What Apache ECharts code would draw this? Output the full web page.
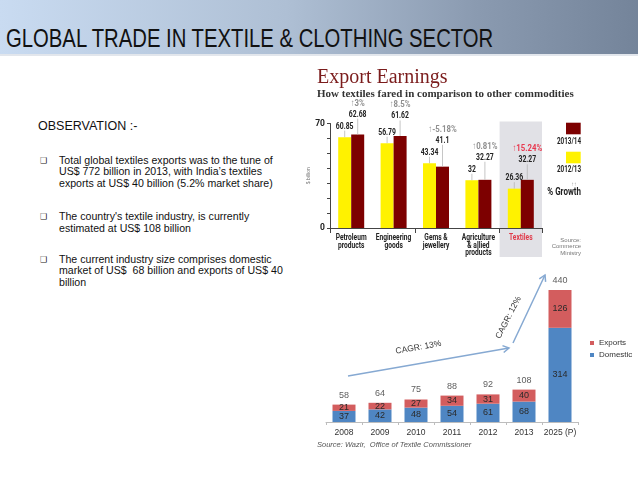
<!DOCTYPE html>
<html><head><meta charset="utf-8">
<script src="https://cdn.jsdelivr.net/npm/echarts@6/dist/echarts.min.js"></script>
<style>
html,body{margin:0;padding:0;width:638px;height:478px;background:#fff;overflow:hidden;font-family:"Liberation Sans",Arial,sans-serif;}
#band{position:absolute;left:0;top:0;width:638px;height:54px;background:linear-gradient(to right,#c9dbf1 0%,#aebfd4 45%,#8a9ab0 75%,#74849a 100%);border-bottom:2px solid #e2e6ec;}
#title{position:absolute;left:6px;top:22.7px;font-size:26px;line-height:30px;color:#111;white-space:nowrap;transform:scaleX(0.78);transform-origin:0 0;}
#obs{position:absolute;left:38px;top:119.4px;font-size:12.5px;line-height:14px;color:#111;white-space:nowrap;}
.para{position:absolute;left:59px;font-size:10.6px;line-height:11.6px;color:#111;white-space:nowrap;}
.bul{position:absolute;left:40px;font-family:"DejaVu Sans",sans-serif;font-size:8px;line-height:11.6px;color:#111;}
#chart{position:absolute;left:0;top:0;width:638px;height:478px;}
</style></head>
<body>
<div id="band"></div>
<div id="title">GLOBAL TRADE IN TEXTILE &amp; CLOTHING SECTOR</div>
<div id="obs">OBSERVATION :-</div>
<div class="bul" style="top:154.7px">❑</div>
<div class="para" style="top:154.7px">Total global textiles exports was to the tune of<br>US$ 772 billion in 2013, with India’s textiles<br>exports at US$ 40 billion (5.2% market share)</div>
<div class="bul" style="top:211.4px">❑</div>
<div class="para" style="top:211.4px">The country's textile industry, is currently<br>estimated at US$ 108 billion</div>
<div class="bul" style="top:253.7px">❑</div>
<div class="para" style="top:253.7px">The current industry size comprises domestic<br>market of US$&nbsp; 68 billion and exports of US$ 40<br>billion</div>
<div id="chart"></div>
<script>
// ---- Export Earnings chart data ----
const earningsCategories = ['Petroleum\nproducts', 'Engineering\ngoods', 'Gems &\njewellery', 'Agriculture\n& allied\nproducts', 'Textiles'];
const earnings2012 = [60.85, 56.79, 43.34, 32, 26.36];
const earnings2013 = [62.68, 61.62, 41.1, 32.27, 32.27];
const growthLabels = ['3%', '8.5%', '-5.18%', '0.81%', '15.24%'];
const earningsTickLabels = [0, 70];
const highlightCategory = 'Textiles';

// ---- Industry size chart data ----
const years = ['2008', '2009', '2010', '2011', '2012', '2013', '2025 (P)'];
const domesticValues = [37, 42, 48, 54, 61, 68, 314];
const exportValues = [21, 22, 27, 34, 31, 40, 126];
const totalValues = [58, 64, 75, 88, 92, 108, 440];

const COND = 'Roboto, "Liberation Sans", sans-serif';
const SANS = '"Liberation Sans", Arial, sans-serif';
const hiIndex = earningsCategories.indexOf(highlightCategory);
const BARW = 13;

function ctext(text, x, y, font, fill, sx, align) {
  return {type: 'text', x: x, y: y, scaleX: sx,
    style: {text: text, x: 0, y: 0, align: align || 'center', verticalAlign: 'middle', font: font, fill: fill}};
}

function renderEarningsLabels(params, api) {
  const ci = api.value(0);
  const v1 = api.value(1), v2 = api.value(2);
  const base = api.coord([ci, 0]);
  const xa = base[0] - BARW / 2, xb = base[0] + BARW / 2;
  const ya = api.coord([ci, v1])[1], yb = api.coord([ci, v2])[1];
  const la = ya - 11;
  const lb = Math.min(yb - 20, la - 12);
  const lg = lb - 11;
  const vf = 'bold 9.5px ' + COND;
  const lineStyle = {stroke: '#b8b8b8', lineWidth: 0.8};
  const children = [
    {type: 'line', shape: {x1: xa, y1: la + 4.5, x2: xa, y2: ya}, style: lineStyle},
    {type: 'line', shape: {x1: xb, y1: lb + 4.5, x2: xb, y2: yb}, style: lineStyle},
    ctext(String(v1), xa, la, vf, '#222', 0.72),
    ctext(String(v2), xb, lb, vf, '#222', 0.72),
    ctext('↑' + growthLabels[ci], xb, lg, 'bold 9.5px ' + COND, ci === hiIndex ? '#e8384f' : '#8f8f8f', 0.82)
  ];
  earningsCategories[ci].split('\n').forEach(function (ln, j) {
    children.push(ctext(ln, base[0], base[1] + 10.3 + j * 7.3, 'bold 8.5px ' + COND, ci === hiIndex ? '#e03a4a' : '#222', 0.78));
  });
  return {type: 'group', children: children};
}

function renderHighlight(params, api) {
  const ci = api.value(0);
  const p0 = api.coord([ci, 0]);
  const pTop = api.coord([ci, 70]);
  const w = api.size([1, 0])[0];
  return {
    type: 'rect',
    shape: {x: p0[0] - w / 2, y: pTop[1] - 2, width: w, height: p0[1] - pTop[1] + 2 + 29},
    style: {fill: '#e1e1e6'}
  };
}

function arrow(x1, y1, x2, y2) {
  const a = Math.atan2(y2 - y1, x2 - x1), L = 6, W = 3.5;
  const c = Math.cos(a), s = Math.sin(a);
  const st = {stroke: '#86a9d2', lineWidth: 1.5, fill: null};
  return [
    {type: 'line', shape: {x1, y1, x2, y2}, style: st, silent: true},
    {type: 'polyline', shape: {points: [[x2 - L * c + W * s, y2 - L * s - W * c], [x2, y2], [x2 - L * c - W * s, y2 - L * s + W * c]]}, style: st, silent: true}
  ];
}

const chart = echarts.init(document.getElementById('chart'), null, {renderer: 'canvas'});
chart.setOption({
  backgroundColor: 'transparent',
  animation: false,
  title: [
    {text: 'Export Earnings', subtext: 'How textiles fared in comparison to other commodities', left: 317, top: 68, padding: 0, itemGap: 1,
     textStyle: {fontFamily: '"Liberation Serif", serif', fontSize: 20, color: '#7b1c1c', fontWeight: 'normal'},
     subtextStyle: {fontFamily: '"Liberation Serif", serif', fontSize: 11, color: '#333', fontWeight: 'bold'}},
    {text: 'Source: Wazir,  Office of Textile Commissioner', left: 317, top: 441, padding: 0,
     textStyle: {fontFamily: SANS, fontSize: 7.5, fontStyle: 'italic', color: '#555', fontWeight: 'normal'}}
  ],
  legend: {
    data: ['Exports', 'Domestic'], orient: 'vertical', left: 590, top: 339, padding: 0, itemWidth: 4, itemHeight: 4, itemGap: 4, icon: 'rect',
    textStyle: {fontFamily: SANS, fontSize: 8, color: '#333'}
  },
  grid: [
    {left: 330, top: 123.5, width: 212, height: 104.5},
    {left: 326, top: 272, width: 252, height: 150}
  ],
  xAxis: [
    {type: 'category', gridIndex: 0, data: earningsCategories, z: 4,
     axisLine: {lineStyle: {color: '#444', width: 1}},
     axisTick: {show: true, length: 5, lineStyle: {color: '#444'}},
     axisLabel: {show: false}},
    {type: 'category', gridIndex: 1, data: years,
     axisLine: {lineStyle: {color: '#bdbdbd', width: 1}},
     axisTick: {show: true, length: 3, lineStyle: {color: '#bdbdbd'}},
     axisLabel: {interval: 0, margin: 6, fontFamily: SANS, fontSize: 8.5, color: '#333'}}
  ],
  yAxis: [
    {type: 'value', gridIndex: 0, min: 0, max: 70, interval: 10, splitLine: {show: false},
     axisLine: {show: true, lineStyle: {color: '#444'}},
     axisTick: {show: true, length: 3, lineStyle: {color: '#444'}},
     axisLabel: {margin: 5, fontFamily: COND, fontWeight: 'bold', fontSize: 8.5, color: '#222',
       formatter: v => earningsTickLabels.indexOf(v) >= 0 ? String(v) : ''},
     name: '$ billion', nameLocation: 'middle', nameRotate: 90, nameGap: 10,
     nameTextStyle: {fontSize: 5, color: '#777', fontFamily: SANS}},
    {type: 'value', gridIndex: 1, min: 0, max: 500, show: false}
  ],
  series: [
    {type: 'custom', name: 'highlight', xAxisIndex: 0, yAxisIndex: 0, z: 1, silent: true, clip: false,
     renderItem: renderHighlight, encode: {x: 0, y: 1}, data: [[hiIndex, 0]]},
    {type: 'bar', name: '2012/13', xAxisIndex: 0, yAxisIndex: 0, data: earnings2012, barWidth: BARW, barGap: '0%', z: 2,
     itemStyle: {color: '#fff200'}},
    {type: 'bar', name: '2013/14', xAxisIndex: 0, yAxisIndex: 0, data: earnings2013, barWidth: BARW, barGap: '0%', z: 2,
     itemStyle: {color: '#7d0000'}},
    {type: 'custom', name: 'labels', xAxisIndex: 0, yAxisIndex: 0, z: 5, silent: true, clip: false,
     renderItem: renderEarningsLabels, encode: {x: 0, y: 1},
     data: earningsCategories.map((c, i) => [i, earnings2012[i], earnings2013[i]])},
    {type: 'bar', name: 'Domestic', xAxisIndex: 1, yAxisIndex: 1, stack: 'size', data: domesticValues, barWidth: 23,
     itemStyle: {color: '#4f86c3'},
     label: {show: true, position: 'inside', fontFamily: SANS, fontSize: 9, color: '#2a2a2a'}},
    {type: 'bar', name: 'Exports', xAxisIndex: 1, yAxisIndex: 1, stack: 'size', data: exportValues, barWidth: 23,
     itemStyle: {color: '#d35d5e'},
     label: {show: true, position: 'inside', fontFamily: SANS, fontSize: 9, color: '#2a2a2a'}},
    {type: 'scatter', name: 'Total', xAxisIndex: 1, yAxisIndex: 1, data: totalValues, symbolSize: 0, silent: true,
     label: {show: true, position: 'top', distance: 5, fontFamily: SANS, fontSize: 9, color: '#333'}}
  ],
  graphic: [
    {type: 'rect', shape: {x: 566, y: 122.7, width: 14.7, height: 11.6}, style: {fill: '#7d0000'}, silent: true},
    ctext('2013/14', 581, 142, 'bold 9px ' + COND, '#222', 0.7, 'right'),
    {type: 'rect', shape: {x: 566, y: 151.7, width: 14.7, height: 11.6}, style: {fill: '#fff200'}, silent: true},
    ctext('2012/13', 581, 169.5, 'bold 9px ' + COND, '#222', 0.7, 'right'),
    ctext('↑↑', 574, 184.7, 'bold 6px ' + COND, '#999', 0.9),
    ctext('% Growth', 581, 192.5, 'bold 10px ' + COND, '#222', 0.8, 'right'),
    {type: 'text', style: {text: 'Source:\nCommerce\nMinistry', x: 581, y: 237, align: 'right', verticalAlign: 'top', font: '6px ' + SANS, lineHeight: 6.5, fill: '#777'}},
    ...arrow(348, 376, 509, 348),
    ...arrow(513, 343, 545, 275),
    {type: 'text', x: 418.5, y: 347.5, rotation: 10 * Math.PI / 180,
     style: {text: 'CAGR: 13%', align: 'center', verticalAlign: 'middle', font: '8.5px ' + SANS, fill: '#333'}},
    {type: 'text', x: 508.5, y: 317.5, rotation: 63 * Math.PI / 180,
     style: {text: 'CAGR: 12%', align: 'center', verticalAlign: 'middle', font: '8.5px ' + SANS, fill: '#333'}}
  ]
});
</script>
</body></html>
